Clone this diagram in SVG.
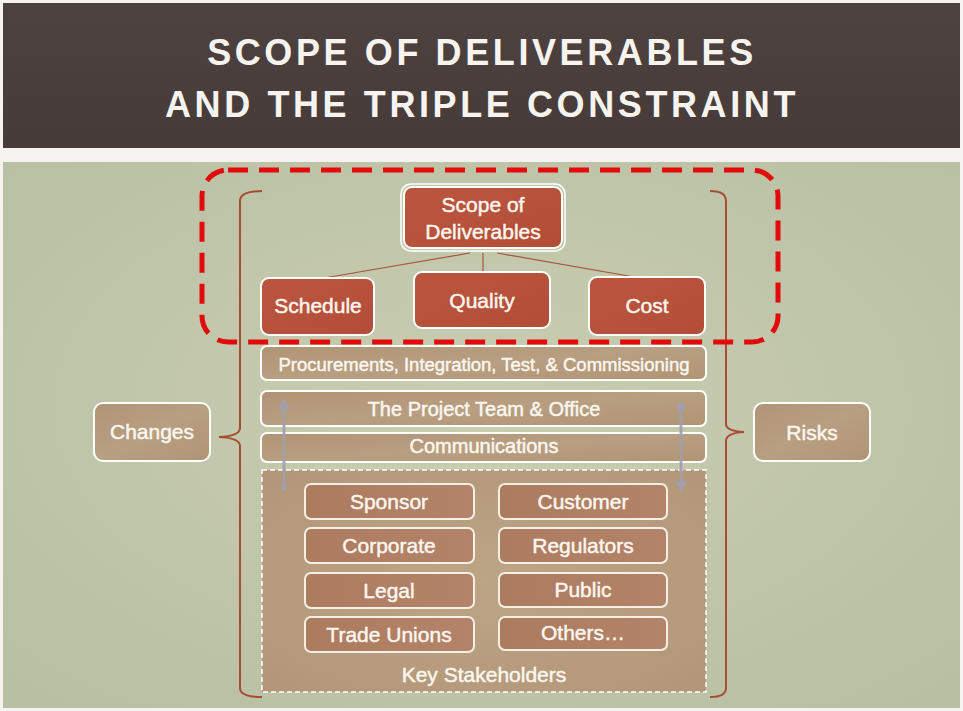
<svg xmlns="http://www.w3.org/2000/svg" width="963" height="711" viewBox="0 0 963 711">
<defs>
<radialGradient id="gBg" cx="0.5" cy="0.45" r="0.7">
<stop offset="0" stop-color="#c9ceb3"/>
<stop offset="1" stop-color="#b9bfa2"/>
</radialGradient>
<linearGradient id="gHead" x1="0" y1="0" x2="0" y2="1">
<stop offset="0" stop-color="#4d423f"/>
<stop offset="1" stop-color="#463b38"/>
</linearGradient>
<linearGradient id="gRed" x1="0" y1="0" x2="1" y2="1">
<stop offset="0" stop-color="#bb553e"/>
<stop offset="1" stop-color="#b24e38"/>
</linearGradient>
<linearGradient id="gTan" x1="0" y1="0" x2="1" y2="1">
<stop offset="0" stop-color="#b09474"/>
<stop offset="0.5" stop-color="#b89f81"/>
<stop offset="1" stop-color="#b09474"/>
</linearGradient>
<radialGradient id="gKey" cx="0.5" cy="0.5" r="0.7">
<stop offset="0" stop-color="#bca586"/>
<stop offset="1" stop-color="#b29677"/>
</radialGradient>
<linearGradient id="gSh" x1="0" y1="0" x2="1" y2="0">
<stop offset="0" stop-color="#ad7b5e"/>
<stop offset="1" stop-color="#b3846a"/>
</linearGradient>
<marker id="mHead" viewBox="0 0 10 10" refX="5" refY="5" markerWidth="4" markerHeight="4" orient="auto-start-reverse" markerUnits="strokeWidth">
<path d="M0,0 L10,5 L0,10 z" fill="#a39fae"/>
</marker>
</defs>
<style>
text { font-family: "Liberation Sans", Arial, sans-serif; fill: #fbf7f0; stroke: #fbf7f0; stroke-width: 0.45px; text-anchor: middle; }
.title { font-size: 36px; font-weight: bold; letter-spacing: 3.6px; fill: #f7f4ef; stroke: none; }
.red { fill: url(#gRed); stroke: #ffffff; stroke-width: 2; }
.tan { fill: url(#gTan); stroke: #ffffff; stroke-width: 2; }
.sh { fill: url(#gSh); stroke: #f6efe6; stroke-width: 2; }
.lbl { font-size: 21px; }
.bar { font-size: 20px; }
.conn { stroke: #a8553c; stroke-width: 1.2; fill: none; }
.brace { stroke: #a84c34; stroke-width: 2; fill: none; }
.arr { stroke: #a39fae; stroke-width: 3; fill: none; opacity: 0.9; }
</style>
<rect x="0" y="0" width="963" height="711" fill="#f4f3ef"/>
<rect x="3" y="3" width="957" height="145" fill="url(#gHead)"/>
<text class="title" x="482" y="65">SCOPE OF DELIVERABLES</text>
<text class="title" x="482" y="117">AND THE TRIPLE CONSTRAINT</text>
<rect x="3" y="162" width="957" height="546" fill="url(#gBg)"/>

<g id="braces">
<path class="brace" d="M262,191 Q240,191 240,201 L240,428 Q240,436 219,437 Q240,438 240,446 L240,688 Q240,697 262,697"/>
<path class="brace" d="M710,191 Q726,191 726,201 L726,424 Q726,431 744,432 Q726,433 726,441 L726,688 Q726,697 710,697"/>
</g>

<g id="key-stakeholders">
<rect x="262" y="470" width="444" height="222" fill="url(#gKey)" stroke="#ffffff" stroke-width="1.5" stroke-dasharray="5,3"/>
<text class="lbl" x="484" y="682">Key Stakeholders</text>
</g>

<g id="procurements">
<rect class="tan" x="261" y="346" width="445" height="34" rx="6"/>
<text x="484" y="371" style="font-size:18.5px">Procurements, Integration, Test, &amp; Commissioning</text>
</g>
<g id="project-team">
<rect class="tan" x="261" y="391" width="445" height="35" rx="6"/>
<text class="bar" x="484" y="416">The Project Team &amp; Office</text>
</g>
<g id="communications">
<rect class="tan" x="261" y="433" width="445" height="29" rx="6"/>
<text class="bar" x="484" y="453">Communications</text>
</g>

<g id="sponsor"><rect class="sh" x="305" y="484" width="169" height="35" rx="6"/><text class="lbl" x="389" y="509">Sponsor</text></g>
<g id="customer"><rect class="sh" x="499" y="484" width="168" height="35" rx="6"/><text class="lbl" x="583" y="509">Customer</text></g>
<g id="corporate"><rect class="sh" x="305" y="528" width="169" height="35" rx="6"/><text class="lbl" x="389" y="553">Corporate</text></g>
<g id="regulators"><rect class="sh" x="499" y="528" width="168" height="35" rx="6"/><text class="lbl" x="583" y="553">Regulators</text></g>
<g id="legal"><rect class="sh" x="305" y="573" width="169" height="35" rx="6"/><text class="lbl" x="389" y="598">Legal</text></g>
<g id="public"><rect class="sh" x="499" y="573" width="168" height="34" rx="6"/><text class="lbl" x="583" y="597">Public</text></g>
<g id="trade-unions"><rect class="sh" x="305" y="617" width="169" height="35" rx="6"/><text class="lbl" x="389" y="642">Trade Unions</text></g>
<g id="others"><rect class="sh" x="499" y="617" width="168" height="33" rx="6"/><text class="lbl" x="583" y="640">Others…</text></g>

<g id="changes"><rect class="tan" x="94" y="403" width="116" height="58" rx="9"/><text class="lbl" x="152" y="439">Changes</text></g>
<g id="risks"><rect class="tan" x="754" y="403" width="116" height="58" rx="9"/><text class="lbl" x="812" y="440">Risks</text></g>

<g id="connectors">
<path class="conn" d="M470,253 L324,278"/>
<path class="conn" d="M483,253 L483,272"/>
<path class="conn" d="M497,253 L640,278"/>
<path class="arr" d="M284,488 L284,404" marker-end="url(#mHead)"/>
<ellipse cx="284" cy="487" rx="2.5" ry="4" fill="#a39fae"/>
<path class="arr" d="M681,407 L681,487" marker-end="url(#mHead)"/>
<circle cx="681" cy="407" r="4" fill="#a39fae"/>
</g>

<g id="scope">
<rect x="401" y="184" width="164" height="67" rx="10" fill="none" stroke="#ffffff" stroke-width="1.5"/>
<rect class="red" x="404" y="187" width="158" height="61" rx="8" stroke-width="1.5"/>
<text class="lbl" x="483" y="212">Scope of</text>
<text class="lbl" x="483" y="239">Deliverables</text>
</g>
<g id="schedule"><rect class="red" x="261" y="278" width="113" height="57" rx="8"/><text class="lbl" x="318" y="313">Schedule</text></g>
<g id="quality"><rect class="red" x="414" y="272" width="136" height="56" rx="8"/><text class="lbl" x="482" y="308">Quality</text></g>
<g id="cost"><rect class="red" x="589" y="277" width="116" height="58" rx="8"/><text class="lbl" x="647" y="313">Cost</text></g>

<g id="triple-constraint-boundary">
<rect x="202" y="170" width="576" height="172" rx="26" fill="none" stroke="#e20a0a" stroke-width="5" stroke-dasharray="20,11"/>
</g>
</svg>
